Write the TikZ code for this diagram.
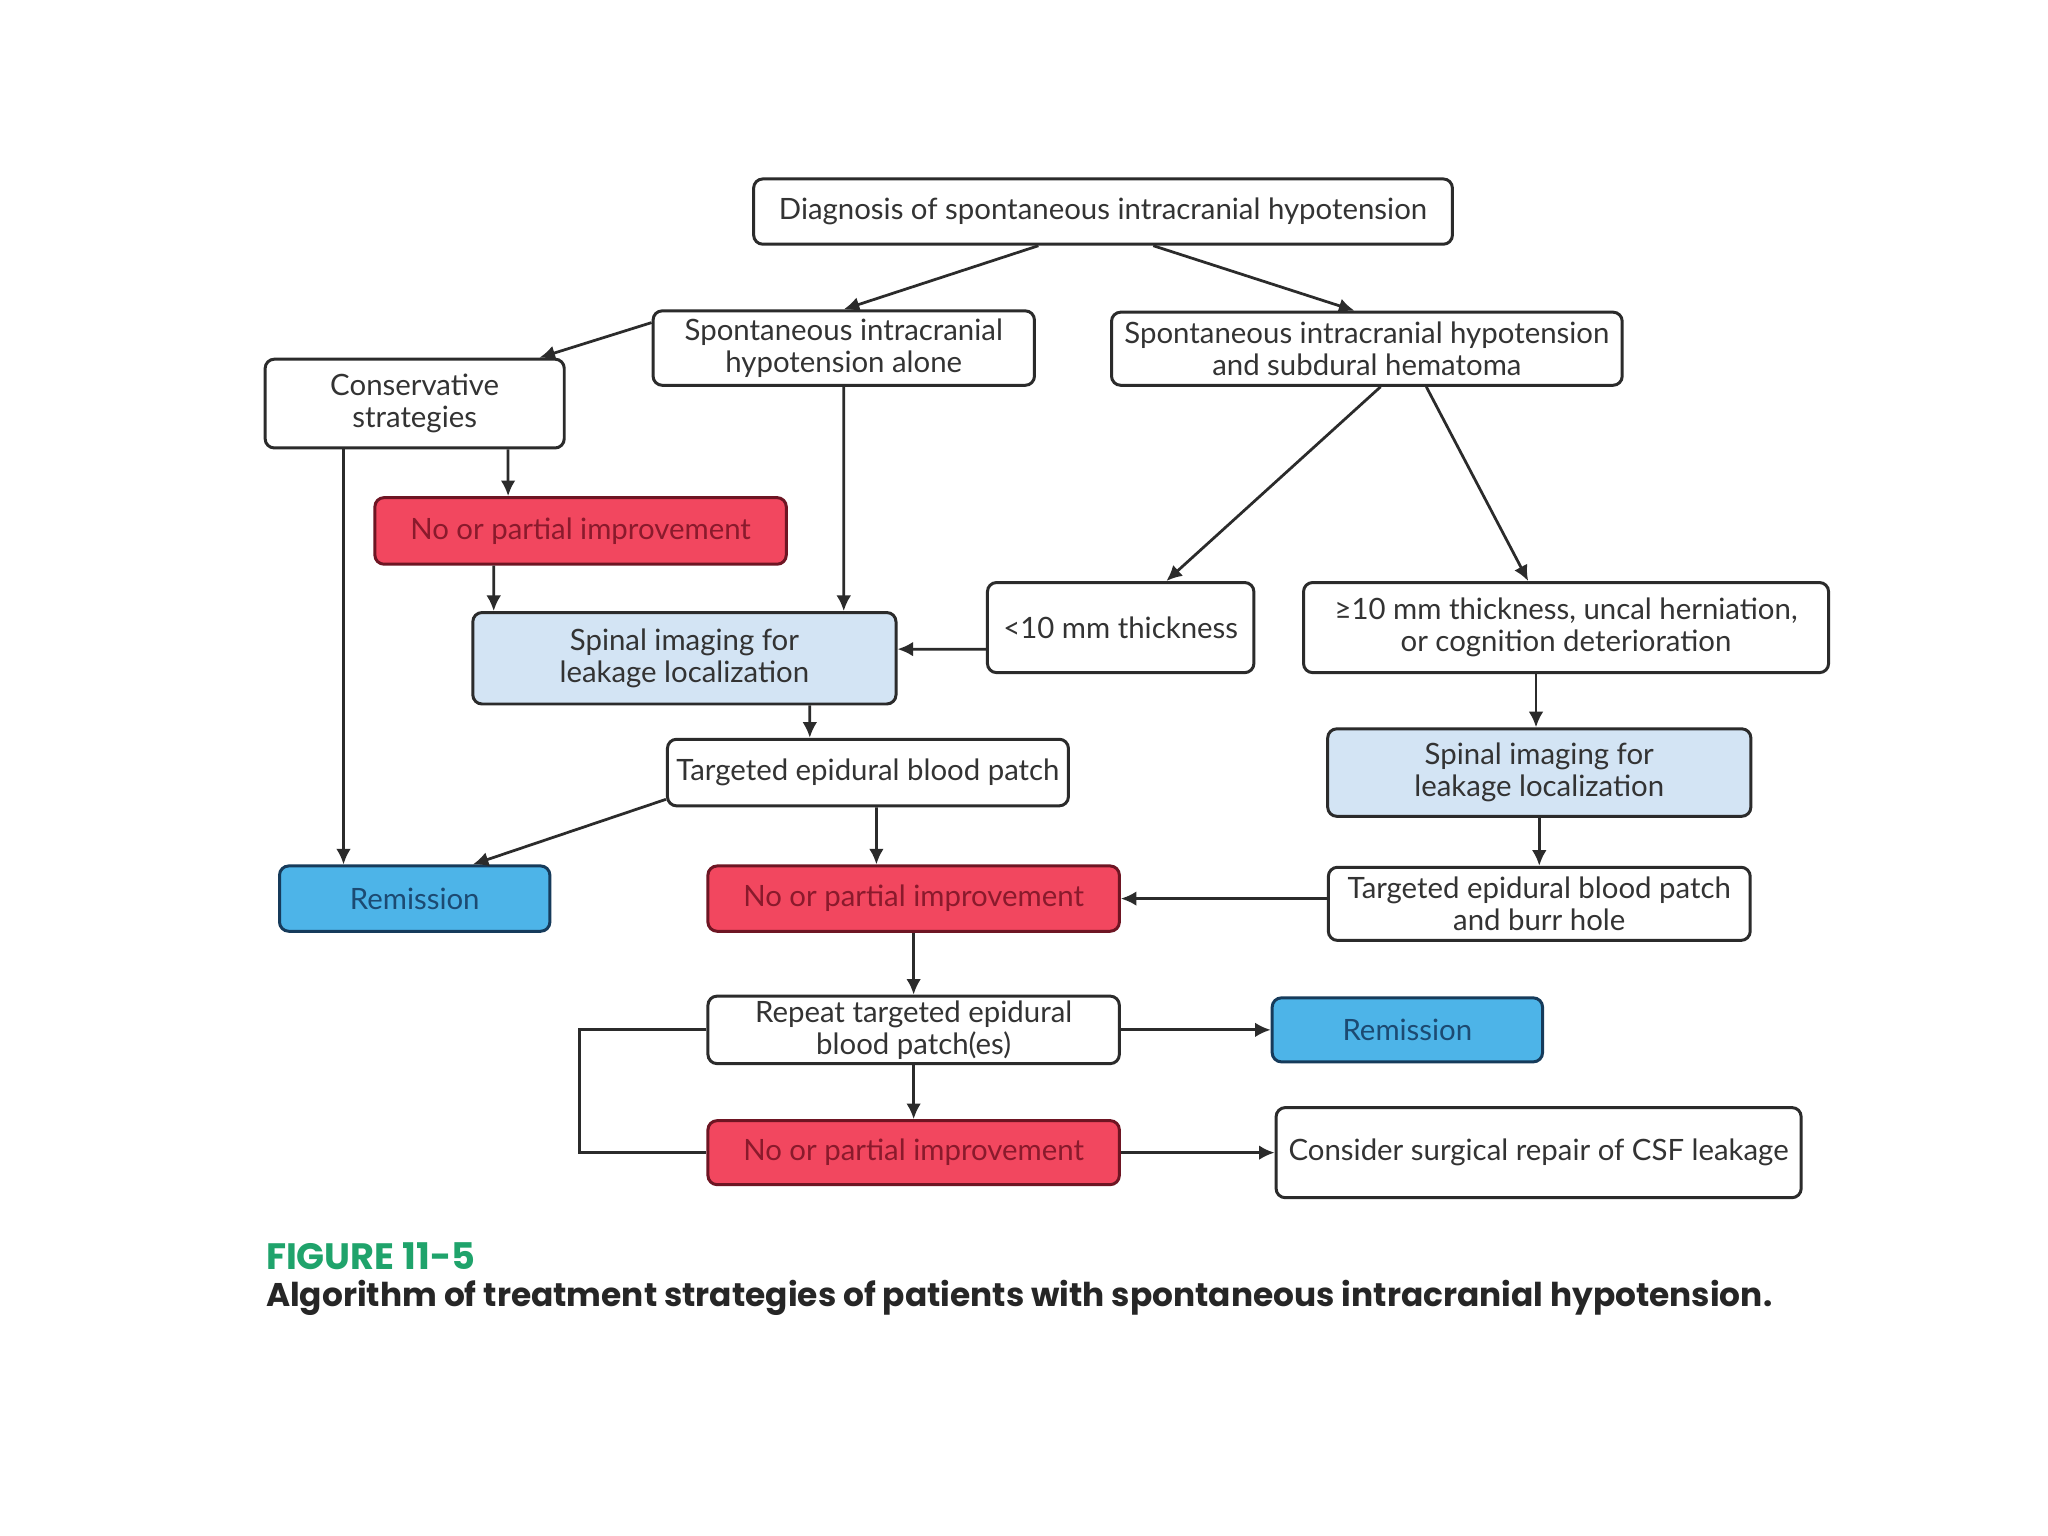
\documentclass[tikz,border=0pt]{standalone}
\usepackage{fontspec}
\setmainfont{Lato}
\newfontfamily\capfont{Poppins}
\usetikzlibrary{arrows.meta, positioning}

\definecolor{redfill}{HTML}{F2475F}
\definecolor{redtext}{HTML}{8A1A2C}
\definecolor{lightblue}{HTML}{D3E4F4}
\definecolor{midblue}{HTML}{4DB4E8}
\definecolor{bluetext}{HTML}{1C4A72}
\definecolor{capgreen}{HTML}{1FA36B}
\definecolor{linegray}{HTML}{2B2B2B}

\begin{document}
\begin{tikzpicture}[
        % Estilo base de las cajas
        basebox/.style={
                rectangle,
                rounded corners=2pt,
                draw=linegray,
                line width=0.65pt,
                align=center,
                inner sep=1pt,
                font=\fontsize{6.4}{6.9}\selectfont,
                text=black!80
            },
        whitebox/.style={basebox, fill=white},
        redbox/.style={basebox, fill=redfill, draw=redtext!80!black, text=redtext},
        imgbox/.style={basebox, fill=lightblue},
        rembox/.style={basebox, fill=midblue, draw=bluetext!80!black, text=bluetext},
        % Flechas
        arrow/.style={
                -{Latex[length=3.4pt,width=3.2pt]},
                line width=0.6pt,
                color=linegray
            },
        line/.style={line width=0.6pt, color=linegray}
    ]

    % Lienzo
    \useasboundingbox[fill=white] (0,0) rectangle (15.68,-11.76);

    % Fila superior
    \node[whitebox, minimum width=5.35cm, minimum height=0.50cm] (diag) at (8.445,-1.62)
        {Diagnosis of spontaneous intracranial hypotension};
    \node[whitebox, minimum width=2.92cm, minimum height=0.57cm] (alone) at (6.46,-2.665)
        {Spontaneous intracranial\\hypotension alone};
    \node[whitebox, minimum width=3.91cm, minimum height=0.56cm] (sdh) at (10.465,-2.67)
        {Spontaneous intracranial hypotension\\and subdural hematoma};
    \node[whitebox, minimum width=2.29cm, minimum height=0.68cm] (cons) at (3.175,-3.09)
        {Conservative\\strategies};

    % Rama izquierda
    \node[redbox, minimum width=3.15cm, minimum height=0.51cm] (nopi1) at (4.445,-4.065)
        {No or partial improvement};
    \node[imgbox, minimum width=3.24cm, minimum height=0.70cm] (spin1) at (5.24,-5.04)
        {Spinal imaging for\\leakage localization};
    \node[whitebox, minimum width=3.07cm, minimum height=0.51cm] (teb1) at (6.645,-5.915)
        {Targeted epidural blood patch};
    \node[rembox, minimum width=2.07cm, minimum height=0.50cm] (rem1) at (3.175,-6.88)
        {Remission};
    \node[redbox, minimum width=3.15cm, minimum height=0.50cm] (nopi2) at (6.995,-6.88)
        {No or partial improvement};

    % Rama derecha
    \node[whitebox, minimum width=2.04cm, minimum height=0.69cm] (thin) at (8.58,-4.805)
        {<10 mm thickness};
    \node[whitebox, minimum width=4.02cm, minimum height=0.69cm] (thick) at (11.99,-4.805)
        {≥10 mm thickness, uncal herniation,\\or cognition deterioration};
    \node[imgbox, minimum width=3.24cm, minimum height=0.67cm] (spin2) at (11.785,-5.915)
        {Spinal imaging for\\leakage localization};
    \node[whitebox, minimum width=3.23cm, minimum height=0.56cm] (tebb) at (11.785,-6.92)
        {Targeted epidural blood patch\\and burr hole};

    % Parte inferior
    \node[whitebox, minimum width=3.15cm, minimum height=0.49cm] (rep) at (6.995,-7.885)
        {Repeat targeted epidural\\blood patch(es)};
    \node[rembox, minimum width=2.07cm, minimum height=0.49cm] (rem2) at (10.775,-7.885)
        {Remission};
    \node[redbox, minimum width=3.15cm, minimum height=0.49cm] (nopi3) at (6.995,-8.825)
        {No or partial improvement};
    \node[whitebox, minimum width=4.02cm, minimum height=0.69cm] (surg) at (11.78,-8.825)
        {Consider surgical repair of CSF leakage};

    % Flechas
    \draw[arrow] ([xshift=-0.495cm]diag.south) -- (alone.north);
    \draw[arrow] ([xshift=0.385cm]diag.south) -- ([xshift=-0.095cm]sdh.north);
    \draw[arrow] ([yshift=0.195cm]alone.west) -- ([xshift=0.955cm]cons.north);
    \draw[arrow] ([xshift=0.715cm]cons.south) -- ([xshift=-0.555cm]nopi1.north);
    \draw[arrow] ([xshift=-0.545cm]cons.south) -- ([xshift=-0.545cm]rem1.north);
    \draw[arrow] (alone.south) -- ([xshift=1.22cm]spin1.north);
    \draw[arrow] ([xshift=-0.665cm]nopi1.south) -- ([xshift=-1.46cm]spin1.north);
    \draw[arrow] ([yshift=-0.165cm]thin.west) -- ([yshift=0.07cm]spin1.east);
    \draw[arrow] ([xshift=0.105cm]sdh.south) -- ([xshift=0.35cm]thin.north);
    \draw[arrow] ([xshift=0.455cm]sdh.south) -- ([xshift=-0.29cm]thick.north);
    \draw[arrow] ([xshift=0.96cm]spin1.south) -- ([xshift=-0.445cm]teb1.north);
    \draw[arrow] ([yshift=-0.205cm]teb1.west) -- ([xshift=0.445cm]rem1.north);
    \draw[arrow] ([xshift=0.065cm]teb1.south) -- ([xshift=-0.285cm]nopi2.north);
    \draw[arrow] ([xshift=-0.23cm]thick.south) -- ([xshift=-0.025cm]spin2.north);
    \draw[arrow] (spin2.south) -- (tebb.north);
    \draw[arrow] ([yshift=0.04cm]tebb.west) -- (nopi2.east);
    \draw[arrow] (nopi2.south) -- (rep.north);
    \draw[arrow] (rep.east) -- (rem2.west);
    \draw[arrow] (rep.south) -- (nopi3.north);
    \draw[arrow] (nopi3.east) -- (surg.west);
    \draw[line] (rep.west) -- ++(-0.97,0) |- (nopi3.west);

    % Pie de figura
    \node[anchor=west, inner sep=0pt, text=capgreen, font=\capfont\bfseries\fontsize{8}{8.5}\selectfont]
        (figlabel) at (2.03,-9.62) {FIGURE 11-5};
    \node[anchor=west, inner sep=0pt, text=black!85, font=\capfont\bfseries\fontsize{7.15}{7.6}\selectfont]
        (figcaption) at (2.03,-9.94)
        {Algorithm of treatment strategies of patients with spontaneous intracranial hypotension.};

\end{tikzpicture}
\end{document}
